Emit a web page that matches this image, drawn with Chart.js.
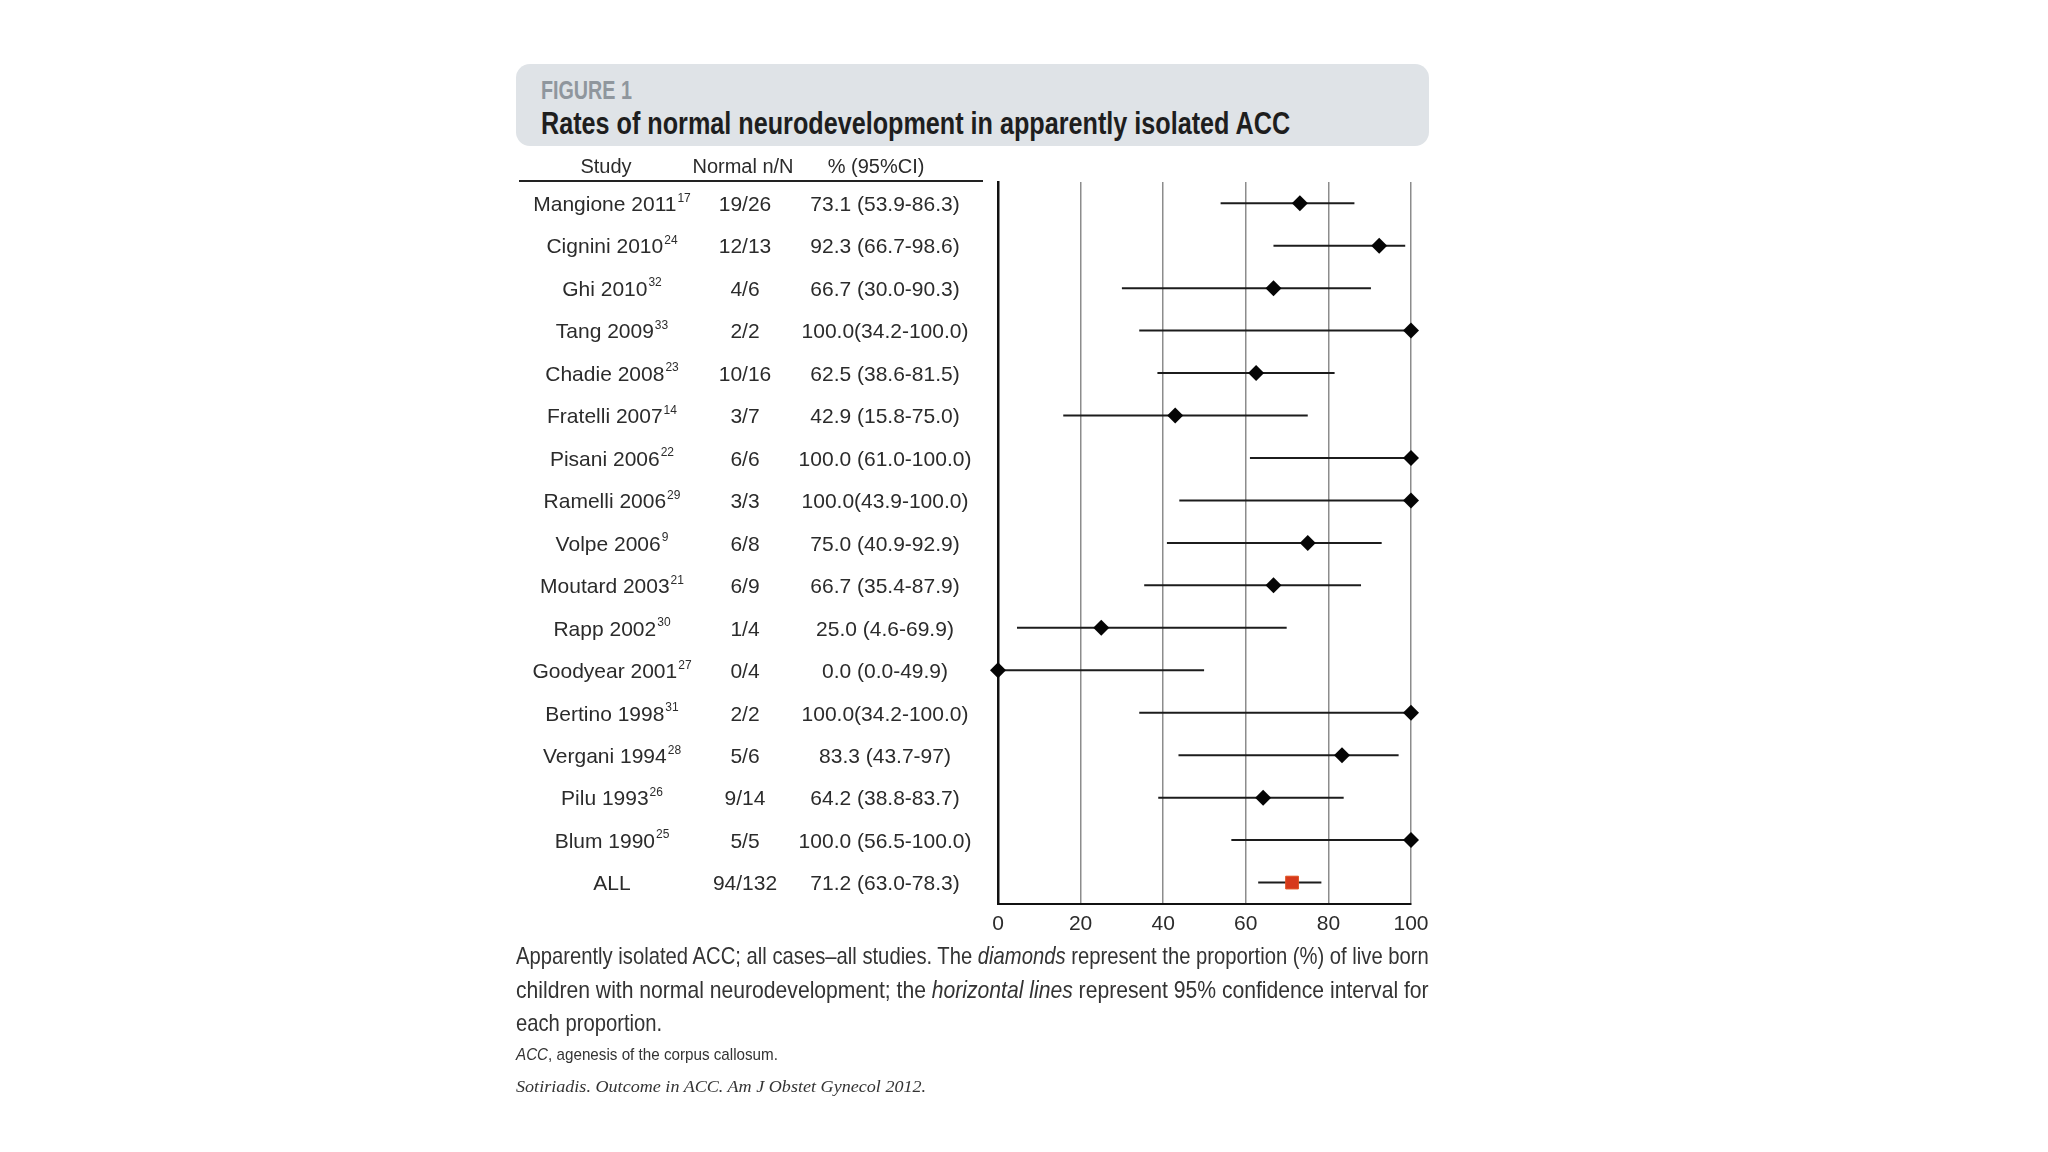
<!DOCTYPE html>
<html>
<head>
<meta charset="utf-8">
<script src="https://cdn.jsdelivr.net/npm/chart.js"></script>
<style>
body { margin: 0; background: #fff; width: 2048px; height: 1152px; position: relative; overflow: hidden;
       font-family: "Liberation Sans", Arial, sans-serif; color: #2b2b2b; }
#chart { position: absolute; left: 0; top: 0; }
#box { position: absolute; left: 516px; top: 64px; width: 913px; height: 82px; background: #dfe3e7; border-radius: 14px; }
.fit { position: absolute; white-space: nowrap; transform-origin: 0 50%; }
.cap { font-family: "Liberation Sans Narrow", "Liberation Sans", Arial; font-size: 24px; line-height: 30px; color: #333; }
</style>
</head>
<body>
<div id="box"></div>
<div class="fit" data-w="91" style="left:541px; top:75px; line-height:30px; font: bold 26px 'Liberation Sans Narrow', Arial; color:#8f969d;">FIGURE 1</div>
<div class="fit" data-w="749" style="left:541px; top:106px; line-height:38px; font: bold 31px 'Liberation Sans Narrow', Arial; color:#1e1e1e;">Rates of normal neurodevelopment in apparently isolated ACC</div>

<canvas id="chart" width="2048" height="1152"></canvas>

<div class="fit cap" id="cap1" data-w="913" style="left:516px; top:941px;">Apparently isolated ACC; all cases–all studies. The <i>diamonds</i> represent the proportion (%) of live born</div>
<div class="fit cap" data-w="913" style="left:516px; top:975px;">children with normal neurodevelopment; the <i>horizontal lines</i> represent 95% confidence interval for</div>
<div class="fit cap" data-same="cap1" style="left:516px; top:1008px;">each proportion.</div>
<div class="fit" data-w="262" style="left:516px; top:1045px; line-height:22px; font: 17px 'Liberation Sans Narrow', Arial; color:#333;"><i>ACC</i>, agenesis of the corpus callosum.</div>
<div class="fit" data-w="410" style="left:516px; top:1077px; line-height:22px; font: italic 17px 'Liberation Serif', serif; color:#333;">Sotiriadis. Outcome in ACC. Am J Obstet Gynecol 2012.</div>

<script>
// rows, top to bottom; last row is the pooled estimate
var studies = ['Mangione 2011', 'Cignini 2010', 'Ghi 2010', 'Tang 2009', 'Chadie 2008', 'Fratelli 2007',
               'Pisani 2006', 'Ramelli 2006', 'Volpe 2006', 'Moutard 2003', 'Rapp 2002', 'Goodyear 2001',
               'Bertino 1998', 'Vergani 1994', 'Pilu 1993', 'Blum 1990', 'ALL'];
var refs = ['17', '24', '32', '33', '23', '14', '22', '29', '9', '21', '30', '27', '31', '28', '26', '25', ''];
var counts = ['19/26', '12/13', '4/6', '2/2', '10/16', '3/7', '6/6', '3/3', '6/8', '6/9', '1/4', '0/4',
              '2/2', '5/6', '9/14', '5/5', '94/132'];
var ciText = ['73.1 (53.9-86.3)', '92.3 (66.7-98.6)', '66.7 (30.0-90.3)', '100.0(34.2-100.0)',
              '62.5 (38.6-81.5)', '42.9 (15.8-75.0)', '100.0 (61.0-100.0)', '100.0(43.9-100.0)',
              '75.0 (40.9-92.9)', '66.7 (35.4-87.9)', '25.0 (4.6-69.9)', '0.0 (0.0-49.9)',
              '100.0(34.2-100.0)', '83.3 (43.7-97)', '64.2 (38.8-83.7)', '100.0 (56.5-100.0)',
              '71.2 (63.0-78.3)'];
var pct    = [73.1, 92.3, 66.7, 100, 62.5, 42.9, 100, 100, 75.0, 66.7, 25.0, 0.0, 100, 83.3, 64.2, 100, 71.2];
var ciLow  = [53.9, 66.7, 30.0, 34.2, 38.6, 15.8, 61.0, 43.9, 40.9, 35.4, 4.6, 0.0, 34.2, 43.7, 38.8, 56.5, 63.0];
var ciHigh = [86.3, 98.6, 90.3, 100, 81.5, 75.0, 100, 100, 92.9, 87.9, 69.9, 49.9, 100, 97, 83.7, 100, 78.3];
var xTicks = [0, 20, 40, 60, 80, 100];
var headers = ['Study', 'Normal n/N', '% (95%CI)'];

// squeeze condensed text to the width it has in the figure
document.querySelectorAll('.fit[data-w]').forEach(function(el) {
    var s = parseFloat(el.getAttribute('data-w')) / el.offsetWidth;
    el.style.transform = 'scaleX(' + s + ')';
    el.dataset.scale = s;
});
document.querySelectorAll('.fit[data-same]').forEach(function(el) {
    var ref = document.getElementById(el.getAttribute('data-same'));
    el.style.transform = 'scaleX(' + ref.dataset.scale + ')';
});

var last = studies.length - 1;
var datasets = [];

// confidence interval lines
studies.forEach(function(name, i) {
    datasets.push({
        data: [{x: ciLow[i], y: i}, {x: ciHigh[i], y: i}],
        showLine: true,
        borderColor: '#1c1c1c',
        borderWidth: 2,
        pointRadius: 0,
        clip: false,
        order: 2
    });
});

// study estimates (diamonds)
datasets.push({
    data: pct.slice(0, last).map(function(v, i) { return {x: v, y: i}; }),
    pointStyle: 'rectRot',
    pointRadius: 8,
    backgroundColor: '#050505',
    borderColor: '#050505',
    borderWidth: 0,
    clip: false,
    order: 1
});

// pooled estimate (red square)
datasets.push({
    data: [{x: pct[last], y: last}],
    pointStyle: 'rect',
    pointRadius: 9,
    backgroundColor: '#d6391c',
    borderColor: '#e0501e',
    borderWidth: 1,
    clip: false,
    order: 0
});

var tablePlugin = {
    id: 'table',
    afterDraw: function(chart) {
        var ctx = chart.ctx;
        var yScale = chart.scales.y;
        ctx.save();
        ctx.fillStyle = '#2b2b2b';
        ctx.textBaseline = 'middle';

        ctx.font = '20px "Liberation Sans", Arial';
        ctx.textAlign = 'center';
        ctx.fillText(headers[0], 606, 167);
        ctx.fillText(headers[1], 743, 167);
        ctx.fillText(headers[2], 876, 167);

        ctx.strokeStyle = '#222';
        ctx.lineWidth = 2;
        ctx.beginPath();
        ctx.moveTo(519, 181);
        ctx.lineTo(983, 181);
        ctx.stroke();

        studies.forEach(function(name, i) {
            var py = yScale.getPixelForValue(i) + 2;
            ctx.font = '21px "Liberation Sans", Arial';
            var w1 = ctx.measureText(name).width;
            ctx.font = '12px "Liberation Sans", Arial';
            var w2 = refs[i] ? ctx.measureText(refs[i]).width + 1 : 0;
            var x0 = 612 - (w1 + w2) / 2;

            ctx.textAlign = 'left';
            ctx.font = '21px "Liberation Sans", Arial';
            ctx.fillText(name, x0, py);
            ctx.font = '12px "Liberation Sans", Arial';
            ctx.fillText(refs[i], x0 + w1 + 1, py - 7);

            ctx.textAlign = 'center';
            ctx.font = '21px "Liberation Sans", Arial';
            ctx.fillText(counts[i], 745, py);
            ctx.fillText(ciText[i], 885, py);
        });
        ctx.restore();
    }
};

new Chart(document.getElementById('chart'), {
    type: 'scatter',
    data: {datasets: datasets},
    options: {
        responsive: false,
        animation: false,
        layout: {padding: {left: 998, top: 182, right: 637, bottom: 207}},
        plugins: {legend: {display: false}, tooltip: {enabled: false}},
        scales: {
            x: {
                type: 'linear',
                min: 0,
                max: 100,
                afterBuildTicks: function(axis) {
                    axis.ticks = xTicks.map(function(v) { return {value: v}; });
                },
                ticks: {color: '#2b2b2b', font: {size: 21, family: '"Liberation Sans", Arial'}, padding: 8},
                grid: {
                    color: function(c) { return c.tick && c.tick.value === 0 ? 'rgba(0,0,0,0)' : '#8c8c8c'; },
                    lineWidth: 1.5,
                    drawTicks: false
                },
                border: {color: '#111', width: 2}
            },
            y: {
                type: 'linear',
                min: -0.5,
                max: 16.5,
                reverse: true,
                ticks: {display: false},
                grid: {display: false, drawTicks: false},
                border: {display: true, color: '#111', width: 2.5}
            }
        }
    },
    plugins: [tablePlugin]
});
</script>
</body>
</html>
